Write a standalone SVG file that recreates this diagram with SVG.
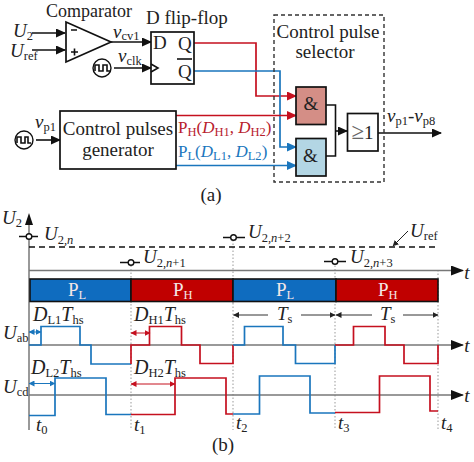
<svg xmlns="http://www.w3.org/2000/svg" width="474" height="462" viewBox="0 0 474 462">
<style>
text{font-family:"Liberation Serif","Times New Roman",serif;font-size:19px;fill:#222}
.i{font-style:italic}
.s{font-size:12.5px;font-style:normal}
.si{font-size:12.5px;font-style:italic}
.m{text-anchor:middle}
.k{fill:none;stroke:#111;stroke-width:1.6}
.box{fill:#fff;stroke:#111;stroke-width:1.7}
.r{fill:none;stroke:#c5101f;stroke-width:1.7}
.b{fill:none;stroke:#1a76bd;stroke-width:1.7}
.ax{fill:none;stroke:#777;stroke-width:1.5}
.dot{fill:none;stroke:#999;stroke-width:1;stroke-dasharray:1.5 2}
.tc{fill:#fff;stroke:#111;stroke-width:1.4}
.rt{fill:#b8202c}.bt{fill:#1a76bd}
.wt{fill:#f4e6e6}
.d{font-size:20px}
</style>
<defs>
<marker id="ak" markerWidth="10" markerHeight="9" refX="9" refY="4.500" orient="auto" markerUnits="userSpaceOnUse"><path d="M0 0L10 4.500L0 9z" fill="#111"/></marker>
<marker id="ar" markerWidth="10" markerHeight="9" refX="9" refY="4.500" orient="auto" markerUnits="userSpaceOnUse"><path d="M0 0L10 4.500L0 9z" fill="#c5101f"/></marker>
<marker id="ab" markerWidth="10" markerHeight="9" refX="9" refY="4.500" orient="auto" markerUnits="userSpaceOnUse"><path d="M0 0L10 4.500L0 9z" fill="#1a76bd"/></marker>
<marker id="dk" markerWidth="6" markerHeight="6" refX="5.500" refY="3" orient="auto-start-reverse" markerUnits="userSpaceOnUse"><path d="M0 0L6 3L0 6z" fill="#222"/></marker>
<marker id="dr" markerWidth="6" markerHeight="6" refX="5.500" refY="3" orient="auto-start-reverse" markerUnits="userSpaceOnUse"><path d="M0 0L6 3L0 6z" fill="#c5101f"/></marker>
<marker id="db" markerWidth="6" markerHeight="6" refX="5.500" refY="3" orient="auto-start-reverse" markerUnits="userSpaceOnUse"><path d="M0 0L6 3L0 6z" fill="#1a76bd"/></marker>
<marker id="at" markerWidth="13" markerHeight="10" refX="12" refY="5" orient="auto" markerUnits="userSpaceOnUse"><path d="M0 0L13 5L0 10z" fill="#111"/></marker>
</defs>

<g id="connectors">
<path class="k" marker-end="url(#ak)" d="M32 33H65"/>
<path class="k" marker-end="url(#ak)" d="M32 50H65"/>
<path class="k" marker-end="url(#ak)" d="M111 42H151"/>
<path class="k" marker-end="url(#ak)" d="M114 68H151"/>
<path class="k" marker-end="url(#ak)" d="M36 140H60"/>
<path class="r" marker-end="url(#ar)" d="M194 43H256V96H296"/>
<path class="b" marker-end="url(#ab)" d="M194 71H280V147H296"/>
<path class="r" marker-end="url(#ar)" d="M176 115.500H296"/>
<path class="b" marker-end="url(#ab)" d="M176 165.500H296"/>
<path class="k" d="M326 105H335.500V156H326"/>
<path class="k" marker-end="url(#ak)" d="M335.500 131H347"/>
<path class="k" marker-end="url(#ak)" d="M378 133H441"/>
</g>

<g id="comparator">
<path class="box" d="M66 22V62L111 42z"/>
<path class="k" d="M71 30H77M71 52H78M74.500 48.500V55.500"/>
<text x="46" y="16.500" style="font-size:18px">Comparator</text>
</g>
<g id="inputs">
<text class="i" x="13" y="37">U<tspan class="s" dy="3">2</tspan></text>
<text class="i" x="10" y="57">U<tspan class="s" dy="3">ref</tspan></text>
<text class="i" x="113" y="37.500">v<tspan class="s" dy="2">cv1</tspan></text>
<text class="i" x="118" y="62">v<tspan class="s" dy="3">clk</tspan></text>
<text class="i" x="35" y="128">v<tspan class="s" dy="3">p1</tspan></text>
</g>
<g id="clock1"><circle class="tc" cx="102" cy="68" r="9"/><path class="k" d="M95 71V65H99V71H103V65H107V71H110"/></g>
<g id="clock2"><circle class="tc" cx="24" cy="140" r="9"/><path class="k" d="M17 143V137H21V143H25V137H28V143H31"/></g>
<g id="flipflop">
<rect class="box" x="151" y="32" width="43" height="52"/>
<path class="k" d="M151 64L158 68L151 72"/>
<path class="k" d="M177 59H192"/>
<text x="146" y="24">D flip-flop</text>
<text x="153" y="49">D</text>
<text x="178" y="50">Q</text>
<text x="178" y="78">Q</text>
</g>
<g id="generator">
<rect class="box" x="60" y="111" width="116" height="58"/>
<text class="m" x="118" y="135">Control pulses</text>
<text class="m" x="118" y="156">generator</text>
</g>
<g id="pulse-labels">
<text class="rt" x="178" y="133" style="font-size:17px">P<tspan class="s rt" dy="3">H</tspan><tspan dy="-3">(</tspan><tspan class="i">D</tspan><tspan class="s rt" dy="3">H1</tspan><tspan dy="-3">, </tspan><tspan class="i">D</tspan><tspan class="s rt" dy="3">H2</tspan><tspan dy="-3">)</tspan></text>
<text class="bt" x="178" y="157" style="font-size:17px">P<tspan class="s bt" dy="3">L</tspan><tspan dy="-3">(</tspan><tspan class="i">D</tspan><tspan class="s bt" dy="3">L1</tspan><tspan dy="-3">, </tspan><tspan class="i">D</tspan><tspan class="s bt" dy="3">L2</tspan><tspan dy="-3">)</tspan></text>
</g>
<g id="selector">
<rect x="274" y="15" width="110" height="167" fill="none" stroke="#333" stroke-width="1.400" stroke-dasharray="4 3"/>
<text class="m" x="328" y="38">Control pulse</text>
<text class="m" x="325" y="58">selector</text>
</g>
<g id="and-high"><rect class="box" x="296" y="87" width="30" height="37.500" style="fill:#d48e86"/><text class="m" x="311" y="110">&amp;</text></g>
<g id="and-low"><rect class="box" x="296" y="138.500" width="30" height="37.500" style="fill:#b3d6e4"/><text class="m" x="310.500" y="162">&amp;</text></g>
<g id="or"><rect class="box" x="347.500" y="113.500" width="30.500" height="37.500"/><text class="m" x="362.500" y="139"><tspan style="font-size:23px;fill:#666">≥</tspan>1</text></g>
<text class="i" x="387" y="122">v<tspan class="s" dy="3">p1</tspan><tspan dy="-3" style="font-style:normal">-</tspan><tspan>v</tspan><tspan class="s" dy="3">p8</tspan></text>
<text class="m" x="211" y="201">(a)</text>

<g id="timing-axes">
<path class="dot" d="M131 262V430M233 240V430M335 262V430M438 270V430"/>
<path class="ax" d="M29 216V430"/>
<path d="M29 213L25 225H33z" fill="#111"/>
<path class="ax" marker-end="url(#at)" d="M29 270.500H463"/>
<path class="ax" marker-end="url(#at)" d="M29 345H463"/>
<path class="ax" marker-end="url(#at)" d="M29 395H463"/>
<path d="M29 247H437" fill="none" stroke="#111" stroke-width="1.500" stroke-dasharray="6 4"/>
<path d="M408 231L393 246" fill="none" stroke="#222" stroke-width="1" marker-end="url(#dk)"/>
</g>
<g id="samples">
<path class="k" d="M19 236.500H38M120 262.500H140M223 237.500H245M324 261.500H346"/>
<circle class="tc" cx="29" cy="236.500" r="2.800"/>
<circle class="tc" cx="131" cy="262.500" r="2.800"/>
<circle class="tc" cx="233.500" cy="237.500" r="2.800"/>
<circle class="tc" cx="335" cy="261.500" r="2.800"/>
</g>
<g id="timing-labels">
<text class="i" x="2" y="224">U<tspan class="s" dy="3">2</tspan></text>
<text class="i" x="44" y="240">U<tspan class="s" dy="4">2,</tspan><tspan class="si">n</tspan></text>
<text class="i" x="143" y="263">U<tspan class="s" dy="4">2,</tspan><tspan class="si">n</tspan><tspan class="s">+1</tspan></text>
<text class="i" x="248" y="238">U<tspan class="s" dy="4">2,</tspan><tspan class="si">n</tspan><tspan class="s">+2</tspan></text>
<text class="i" x="350" y="263">U<tspan class="s" dy="4">2,</tspan><tspan class="si">n</tspan><tspan class="s">+3</tspan></text>
<text class="i" x="410" y="237">U<tspan class="s" dy="3">ref</tspan></text>
<text class="i m" x="467" y="279">t</text>
<text class="i m" x="467" y="352">t</text>
<text class="i m" x="467" y="402">t</text>
<text class="i" x="3" y="339">U<tspan class="s" dy="3">ab</tspan></text>
<text class="i" x="3" y="393">U<tspan class="s" dy="3">cd</tspan></text>
<text class="i" x="36" y="431">t<tspan class="s" dy="3">0</tspan></text>
<text class="i" x="134" y="431">t<tspan class="s" dy="3">1</tspan></text>
<text class="i" x="236" y="429">t<tspan class="s" dy="3">2</tspan></text>
<text class="i" x="338" y="429">t<tspan class="s" dy="3">3</tspan></text>
<text class="i" x="441" y="429">t<tspan class="s" dy="3">4</tspan></text>
<text class="i d" x="33" y="321">D<tspan class="s" dy="3">L1</tspan><tspan dy="-3">T</tspan><tspan class="s" dy="3">hs</tspan></text>
<text class="i d" x="134" y="321">D<tspan class="s" dy="3">H1</tspan><tspan dy="-3">T</tspan><tspan class="s" dy="3">hs</tspan></text>
<text class="i d" x="31" y="374">D<tspan class="s" dy="3">L2</tspan><tspan dy="-3">T</tspan><tspan class="s" dy="3">hs</tspan></text>
<text class="i d" x="134" y="374">D<tspan class="s" dy="3">H2</tspan><tspan dy="-3">T</tspan><tspan class="s" dy="3">hs</tspan></text>
<text class="i" x="277" y="320">T<tspan class="s" dy="3">s</tspan></text>
<text class="i" x="380" y="320">T<tspan class="s" dy="3">s</tspan></text>
<text class="m" x="223" y="451">(b)</text>
</g>
<g id="phase-bars" stroke="#111" stroke-width="1.600">
<rect x="30" y="279" width="101" height="22.500" fill="#0f6cbf"/>
<rect x="131" y="279" width="102" height="22.500" fill="#c00000"/>
<rect x="233" y="279" width="103" height="22.500" fill="#0f6cbf"/>
<rect x="336" y="279" width="102" height="22.500" fill="#c00000"/>
</g>
<g id="phase-labels">
<text class="wt" x="68" y="296">P<tspan class="s wt" dy="3">L</tspan></text>
<text class="wt" x="173" y="296">P<tspan class="s wt" dy="3">H</tspan></text>
<text class="wt" x="276" y="296">P<tspan class="s wt" dy="3">L</tspan></text>
<text class="wt" x="378" y="296">P<tspan class="s wt" dy="3">H</tspan></text>
</g>
<g id="dimensions" fill="none" stroke-width="1">
<path d="M268 315H233.500" stroke="#333" marker-end="url(#dk)"/>
<path d="M301 315H335" stroke="#333" marker-end="url(#dk)"/>
<path d="M372 315H336" stroke="#333" marker-end="url(#dk)"/>
<path d="M403 315H438" stroke="#333" marker-end="url(#dk)"/>
<path d="M29 332H41" stroke="#1a76bd" marker-start="url(#db)" marker-end="url(#db)"/>
<path d="M131 333H150" stroke="#c5101f" marker-start="url(#dr)" marker-end="url(#dr)"/>
<path d="M29 383.500H55" stroke="#1a76bd" marker-start="url(#db)" marker-end="url(#db)"/>
<path d="M131 384H175" stroke="#c5101f" marker-start="url(#dr)" marker-end="url(#dr)"/>
</g>
<g id="waveforms">
<path class="b" d="M29 345H41V326.500H80V345H91V364H131"/>
<path class="r" d="M131 364V345H149.500V326.500H181.500V345H200V363.500H233V345"/>
<path class="b" d="M233 345H244.500V326.500H283V345H295.500V363.500H335V345"/>
<path class="r" d="M335 345H353.500V326.500H385V345H404V363.500H438V345"/>
<path class="b" d="M29 415.500H55V378H106V414.500H131"/>
<path class="r" d="M131 414.500H175V378H226V414H233"/>
<path class="b" d="M233 414H259.500V376H310V413H335"/>
<path class="r" d="M335 412.500H379.500V376H430V411H438"/>
</g>
</svg>
